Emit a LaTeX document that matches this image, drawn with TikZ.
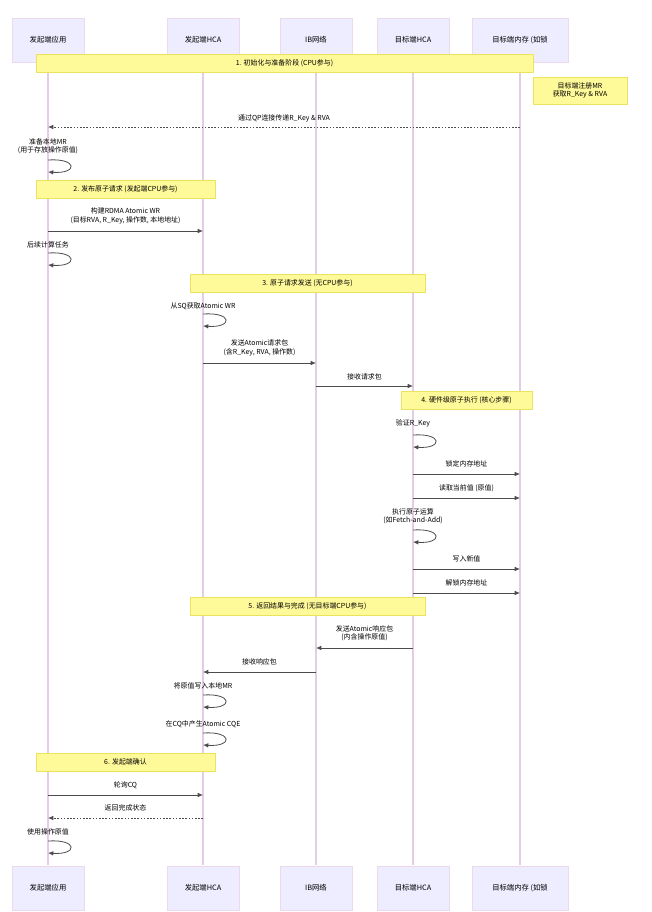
\documentclass[tikz,border=0pt]{standalone}
\usepackage{fontspec}
\setmainfont{Noto Sans CJK SC}
\usetikzlibrary{arrows.meta}
\begin{document}
\begin{tikzpicture}[x=0.75pt,y=-0.75pt,
  actor/.style={draw=violet!15,fill=blue!7,line width=0.5pt,minimum width=54pt,minimum height=33pt,font=\fontsize{5.5}{6.5}\selectfont,inner sep=1pt},
  life/.style={draw=violet!20,line width=0.8pt},
  note/.style={draw=yellow!70!olive!60,fill=yellow!40,line width=0.6pt},
  lab/.style={font=\fontsize{5.2}{6.2}\selectfont,align=center,inner sep=0.5pt},
  msg/.style={draw=black!70,line width=0.6pt,-{Latex[length=4pt,width=3.5pt]}},
  dmsg/.style={msg,dash pattern=on 1.2pt off 1.2pt}]
\useasboundingbox (0,0) rectangle (651,912);
\fill[white] (0,0) rectangle (651,912);
% lifelines
\foreach \n/\x in {a/48,b/203,c/316,d/413,e/520}{
  \coordinate (\n) at (\x,0);
  \draw[life] (\x,62) -- (\x,865);
}
% actors
\foreach \n/\x/\w/\t in {a/48/72/发起端应用,b/203/72/发起端HCA,c/316/72/IB网络,d/413/72/目标端HCA,e/520/96/目标端内存 (如锁/计数器)}{
  \node[actor,minimum width=\w*0.75pt] (top\n) at (\x,40) {\t};
  \node[actor,minimum width=\w*0.75pt] (bot\n) at (\x,888) {\t};
}
% notes helper
\newcommand{\mynote}[6]{\node[note,minimum width=#3*0.75pt-#2*0.75pt,minimum height=#5*0.75pt-#4*0.75pt,lab] (#6) at ({(#2+#3)/2},{(#4+#5)/2}) {#1};}
\mynote{1. 初始化与准备阶段 (CPU参与)}{36}{533}{54}{72}{n1}
\mynote{目标端注册MR\\获取R\_Key \& RVA}{533}{627}{77}{104}{n1b}
\mynote{2. 发布原子请求 (发起端CPU参与)}{36}{215}{180}{198}{n2}
\mynote{3. 原子请求发送 (无CPU参与)}{190}{425}{274}{292}{n3}
\mynote{4. 硬件级原子执行 (核心步骤)}{401}{532}{391}{409}{n4}
\mynote{5. 返回结果与完成 (无目标端CPU参与)}{190}{425}{597}{615}{n5}
\mynote{6. 发起端确认}{36}{215}{753}{771}{n6}
% messages
\newcommand{\mymsg}[6]{% style, from x, to x, y, label y, text
  \coordinate (m1) at (#2,#4); \coordinate (m2) at (#3,#4);
  \draw[#1] (m1) -- (m2);
  \node[lab] at ({(#2+#3)/2},#5) {#6};}
\newcommand{\myself}[4]{% x, label y, loop top, text
  \node[lab] at (#1,#2) {#4};
  \coordinate (s1) at (#1,#3); \coordinate (s2) at (#1,#3+12);
  \draw[msg] (s1) .. controls (#1+30,#3-2) and (#1+30,#3+14) .. (s2);}
\mymsg{dmsg}{520}{48}{127}{118}{通过QP连接传递R\_Key \& RVA}
\myself{48}{146}{160}{准备本地MR\\(用于存放操作原值)}
\mymsg{msg}{48}{203}{231}{216}{构建RDMA Atomic WR\\(目标RVA, R\_Key, 操作数, 本地地址)}
\myself{48}{245}{253}{后续计算任务}
\myself{203}{306}{314}{从SQ获取Atomic WR}
\mymsg{msg}{203}{316}{363}{348}{发送Atomic请求包\\(含R\_Key, RVA, 操作数)}
\mymsg{msg}{316}{413}{386}{377}{接收请求包}
\myself{413}{423}{435}{验证R\_Key}
\mymsg{msg}{413}{520}{474}{464}{锁定内存地址}
\mymsg{msg}{413}{520}{498}{488}{读取当前值 (原值)}
\myself{413}{516}{530}{执行原子运算\\(如Fetch-and-Add)}
\mymsg{msg}{413}{520}{569}{559}{写入新值}
\mymsg{msg}{413}{520}{593}{583}{解锁内存地址}
\mymsg{msg}{413}{316}{648}{633}{发送Atomic响应包\\(内含操作原值)}
\mymsg{msg}{316}{203}{672}{662}{接收响应包}
\myself{203}{686}{695}{将原值写入本地MR}
\myself{203}{724}{733}{在CQ中产生Atomic CQE}
\mymsg{msg}{48}{203}{795}{785}{轮询CQ}
\mymsg{dmsg}{203}{48}{818}{808}{返回完成状态}
\myself{48}{832}{841}{使用操作原值}
\end{tikzpicture}
\end{document}
